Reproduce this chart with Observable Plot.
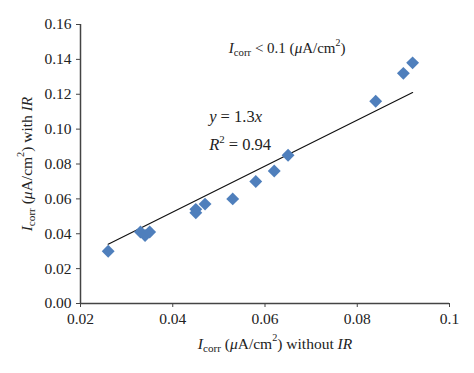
<!DOCTYPE html>
<html><head><meta charset="utf-8">
<script src="https://cdn.jsdelivr.net/npm/d3@7"></script>
<script src="https://cdn.jsdelivr.net/npm/@observablehq/plot@0.6"></script>
<style>
body{margin:0;background:#fff}
svg{font-family:"Liberation Serif","Times New Roman",serif}
</style>
</head><body><div id="chart"></div>
<script>
// Icorr without IR (x) and with IR (y), µA/cm²
const xWithout = [0.026, 0.033, 0.034, 0.035, 0.045, 0.045, 0.047, 0.053, 0.058, 0.062, 0.065, 0.084, 0.090, 0.092];
const yWith    = [0.030, 0.041, 0.039, 0.041, 0.054, 0.052, 0.057, 0.060, 0.070, 0.076, 0.085, 0.116, 0.132, 0.138];
// fitted line y = 1.3x, end points
const fitX = [0.026, 0.092];
const fitY = [0.034, 0.121];
const xTicks = [0.02, 0.04, 0.06, 0.08, 0.1];
const xTickLabels = ["0.02", "0.04", "0.06", "0.08", "0.1"];
const yTicks = [0, 0.02, 0.04, 0.06, 0.08, 0.10, 0.12, 0.14, 0.16];
const yTickLabels = ["0.00", "0.02", "0.04", "0.06", "0.08", "0.10", "0.12", "0.14", "0.16"];

const data = xWithout.map((x, i) => ({x, y: yWith[i]}));
const fit = fitX.map((x, i) => ({x, y: fitY[i]}));

const chart = Plot.plot({
  width: 474, height: 373,
  marginLeft: 80, marginRight: 25, marginTop: 24, marginBottom: 70,
  style: {fontFamily: '"Liberation Serif","Times New Roman",serif', fontSize: "15.5px", color: "#222", background: "#fff"},
  x: {domain: [0.02, 0.1]},
  y: {domain: [0, 0.16]},
  marks: [
    Plot.axisX({ticks: xTicks, tickFormat: d => xTickLabels[xTicks.indexOf(d)], tickSize: 4, tickPadding: 5, label: null, stroke: "#444", fontSize: 15.5}),
    Plot.axisY({ticks: yTicks, tickFormat: d => yTickLabels[yTicks.indexOf(d)], tickSize: 4, tickPadding: 5, label: null, stroke: "#444", fontSize: 15.5}),
    Plot.ruleX([0.02], {stroke: "#444", strokeWidth: 1.5}),
    Plot.ruleY([0], {stroke: "#444", strokeWidth: 1.5}),
    Plot.line(fit, {x: "x", y: "y", stroke: "#111", strokeWidth: 1.2}),
    Plot.dot(data, {x: "x", y: "y", symbol: "diamond2", r: 5.8, fill: "#4f7fbc", stroke: "none"})
  ]
});

const svg = d3.select(chart);
const sx = chart.scale("x"), sy = chart.scale("y");

function rich(x, y, anchor, parts, rotate, size = 15.5) {
  const t = svg.append("text")
    .attr("text-anchor", anchor)
    .attr("font-size", size)
    .attr("fill", "#222")
    .attr("dominant-baseline", "middle");
  if (rotate) t.attr("transform", `translate(${x},${y}) rotate(-90)`);
  else t.attr("x", x).attr("y", y);
  for (const p of parts) {
    const s = t.append("tspan").text(p.t);
    if (p.i) s.attr("font-style", "italic");
    if (p.sub) s.attr("font-size", size * 0.72).attr("dy", 4);
    if (p.sup) s.attr("font-size", size * 0.66).attr("dy", -6);
    if (p.back) s.attr("dy", p.back);
  }
  return t;
}

const icorr = [{t: "I", i: true}, {t: "corr", sub: true}, {t: " (", back: -4}, {t: "μ", i: true}, {t: "A/cm"}, {t: "2", sup: true}, {t: ")", back: 6}];

// axis labels
rich(275, 345, "middle", [...icorr, {t: " without "}, {t: "IR", i: true}]);
rich(28, 164, "middle", [...icorr, {t: " with "}, {t: "IR", i: true}], true);

// annotations placed in data coordinates
rich(sx.apply(0.0649), sy.apply(0.145), "middle", [{t: "I", i: true}, {t: "corr", sub: true}, {t: " < 0.1 (", back: -4}, {t: "μ", i: true}, {t: "A/cm"}, {t: "2", sup: true}, {t: ")", back: 6}], false, 15);
rich(sx.apply(0.048), sy.apply(0.106), "start", [{t: "y", i: true}, {t: " = 1.3"}, {t: "x", i: true}], false, 16.5);
rich(sx.apply(0.048), sy.apply(0.090), "start", [{t: "R", i: true}, {t: "2", sup: true}, {t: " = 0.94", back: 6}], false, 16.5);

document.getElementById("chart").appendChild(chart);
</script>
</body></html>
